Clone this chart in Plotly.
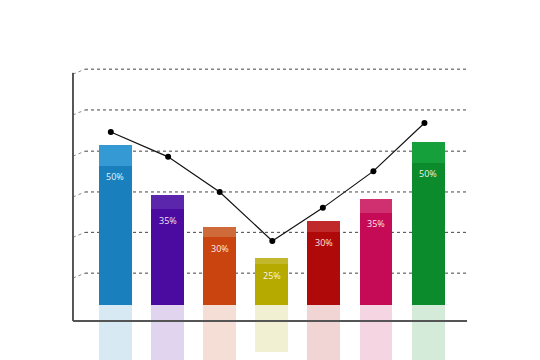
import plotly.graph_objects as go

# ---- data ----
categories = [0, 1, 2, 3, 4, 5, 6]
bar_values = [39.2, 27.0, 19.1, 11.5, 20.6, 26.0, 40.0]
bar_labels = ["50%", "35%", "30%", "25%", "30%", "35%", "50%"]
line_x = [-0.09, 1.01, 2.0, 3.01, 3.98, 4.95, 5.93]
line_values = [42.4, 36.3, 27.7, 15.7, 23.8, 32.8, 44.6]
gridline_values = [7.8, 17.8, 27.7, 37.7, 47.8, 57.8]

# ---- style ----
body_colors = ["#1a80bd", "#4b0aa0", "#c9440f", "#b6aa00", "#b00909", "#c60b56", "#0b8b2c"]
top_colors = ["#3599d3", "#5b26ab", "#cf6a3b", "#c3b82c", "#c02a2a", "#d0306f", "#15a03b"]
TOP_FRAC = 0.13
BAR_W = 0.63

X_LEFT = -0.816   # vertical axis position
X_GRID0 = -0.585  # gridline start
X_RIGHT = 6.747   # right end
STUB = 1.22       # perspective stub offset

fig = go.Figure()

# reflections
fig.add_trace(go.Bar(
    x=categories, y=[-v for v in bar_values], base=0, width=BAR_W,
    marker=dict(color=body_colors, line=dict(width=0)), opacity=0.17,
    hoverinfo="skip", showlegend=False))

# bar bodies
body_h = [v * (1 - TOP_FRAC) for v in bar_values]
fig.add_trace(go.Bar(
    x=categories, y=body_h, base=0, width=BAR_W,
    marker=dict(color=body_colors, line=dict(width=0)),
    hoverinfo="skip", showlegend=False))
# bar top faces
fig.add_trace(go.Bar(
    x=categories, y=[v * TOP_FRAC for v in bar_values], base=body_h, width=BAR_W,
    marker=dict(color=top_colors, line=dict(width=0)),
    hoverinfo="skip", showlegend=False))

# line
fig.add_trace(go.Scatter(
    x=line_x, y=line_values, mode="lines+markers",
    line=dict(color="#111111", width=1.2),
    marker=dict(color="#000000", size=6),
    hoverinfo="skip", showlegend=False))

shapes = []
for g in gridline_values:
    shapes.append(dict(type="line", xref="x", yref="y", x0=X_GRID0, x1=X_RIGHT, y0=g, y1=g,
                       line=dict(color="#444444", width=1, dash="dot"), layer="below"))
    shapes.append(dict(type="line", xref="x", yref="y", x0=X_LEFT, x1=X_GRID0, y0=g - STUB, y1=g,
                       line=dict(color="#888888", width=1, dash="dot"), layer="below"))
# axes
shapes.append(dict(type="line", xref="x", yref="y", x0=X_LEFT, x1=X_LEFT, y0=56.9, y1=-3.92,
                   line=dict(color="#555555", width=2)))
shapes.append(dict(type="line", xref="x", yref="y", x0=X_LEFT, x1=X_RIGHT, y0=-3.92, y1=-3.92,
                   line=dict(color="#555555", width=2)))

annotations = []
for c, v, t in zip(categories, body_h, bar_labels):
    annotations.append(dict(x=c, y=v, xref="x", yref="y", text=t, showarrow=False,
                            yanchor="middle", yshift=-11,
                            font=dict(color="rgba(255,255,255,0.92)", size=9,
                                      family="Open Sans, Liberation Sans, sans-serif")))

fig.update_layout(
    width=540, height=360,
    margin=dict(l=0, r=0, t=0, b=0),
    paper_bgcolor="white", plot_bgcolor="white",
    barmode="overlay", bargap=0,
    shapes=shapes, annotations=annotations,
    xaxis=dict(range=[-2.063, 8.301], visible=False, fixedrange=True),
    yaxis=dict(range=[-15.45, 72.79], visible=False, fixedrange=True),
    hovermode=False,
)

fig.write_html("out.html", config={"displayModeBar": False, "staticPlot": True})
